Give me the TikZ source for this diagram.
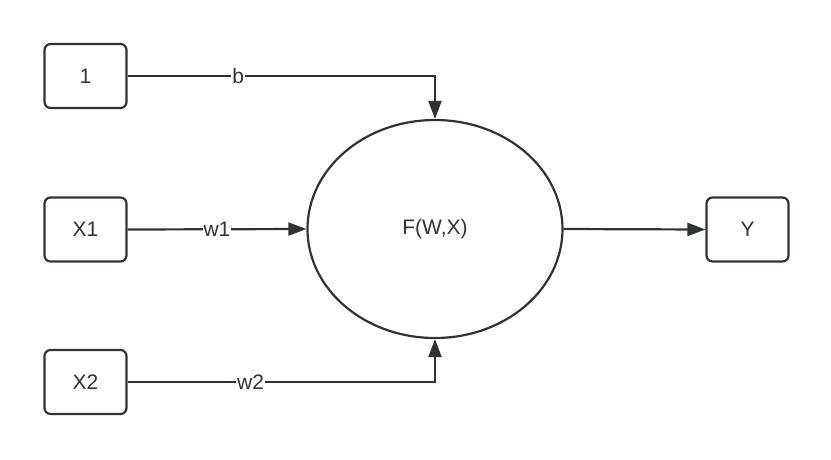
\documentclass[tikz,border=0pt]{standalone}
\usepackage{fontspec}
\setmainfont{Liberation Sans}
\usetikzlibrary{shapes.geometric,arrows.meta}
\definecolor{ink}{HTML}{2F3338}
\definecolor{txt}{HTML}{333333}
\begin{document}
\begin{tikzpicture}[x=1pt,y=-1pt,
  box/.style={draw=ink,line width=2.2pt,rounded corners=6pt,minimum width=82pt,minimum height=64pt,inner sep=0pt,text=txt,font=\fontsize{21}{24}\selectfont},
  oval/.style={ellipse,draw=ink,line width=2.2pt,minimum width=255pt,minimum height=218pt,inner sep=0pt,text=txt,font=\fontsize{21}{24}\selectfont},
  conn/.style={draw=ink,line width=2.2pt,-{Triangle[length=18pt,width=13pt]}},
  lbl/.style={fill=white,inner sep=1pt,text=txt,font=\fontsize{21}{24}\selectfont}]
\useasboundingbox (0,0) rectangle (831,459);
\node[box] (one) at (85.5,76) {1};
\node[box] (x1) at (85.5,229.5) {X1};
\node[box] (x2) at (85.5,382) {X2};
\node[box] (y) at (747.5,229.5) {Y};
\node[oval] (f) at (435,229) {F(W,X)};
\draw[conn] (one.east) -| node[lbl,pos=0.18] {b} (f.north);
\draw[conn] (x1.east) -- node[lbl] {w1} (f.west);
\draw[conn] (x2.east) -| node[lbl,pos=0.2] {w2} (f.south);
\draw[conn] (f.east) -- (y.west);
\end{tikzpicture}
\end{document}
